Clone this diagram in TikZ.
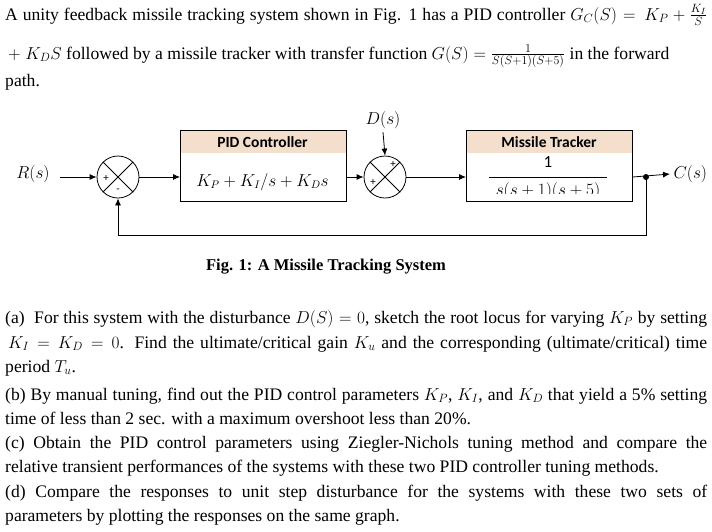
\documentclass[tikz,border=0pt]{standalone}
\usepackage{amsmath}
\usepackage{fontspec}
\setmainfont{Liberation Serif}
\newfontfamily\calib{Carlito}
\usetikzlibrary{arrows.meta}
\newcommand\jl[1]{\hbox to 702pt{#1}}
\begin{document}
\begin{tikzpicture}[x=1pt,y=-1pt,
  txt/.style={anchor=base west,inner sep=0pt,font=\fontsize{17.6}{24}\selectfont},
  blk/.style={draw,thick,minimum width=166pt,minimum height=71pt,inner sep=0pt},
  hdr/.style={fill=orange!25!brown!25!white},
  sumc/.style={draw,thick,circle,minimum size=42pt,inner sep=0pt},
  arr/.style={-{Latex[length=7pt,width=6pt]},thick},
  ln/.style={thick},
  lab/.style={font=\fontsize{16}{18}\selectfont},
  sg/.style={font=\fontsize{11}{12}\selectfont\calib}]
\useasboundingbox (0,0) rectangle (712,531);
% top text
\node[txt] (t1) at (5,20) {\jl{A unity feedback missile tracking system shown in Fig. 1 has a PID controller $G_C(S)=\,K_P+\frac{K_I}{S}$}};
\node[txt] (t2) at (5,59) {\,$+\;K_D S$ followed by a missile tracker with transfer function $G(S)=\frac{1}{S(S+1)(S+5)}$ in the forward};
\node[txt] (t3) at (5,86) {path.};
% diagram
\node[blk,anchor=north west] (pid) at (180,130) {};
\fill[hdr] ([xshift=0.8pt,yshift=-0.8pt]pid.north west) rectangle ([xshift=-0.8pt]pid.east |- 0,153);
\node[font=\calib\bfseries\fontsize{15.5}{16}\selectfont] (pidh) at (262.5,142) {PID Controller};
\node[lab] (pidb) at (262.5,182) {$K_P+K_I/s+K_D s$};
\node[blk,anchor=north west] (mt) at (466,130) {};
\fill[hdr] ([xshift=0.8pt,yshift=-0.8pt]mt.north west) rectangle ([xshift=-0.8pt]mt.east |- 0,153);
\node[font=\calib\bfseries\fontsize{15.5}{16}\selectfont] (mth) at (549,142) {Missile Tracker};
\node[font=\calib\fontsize{17}{17}\selectfont] (one) at (548,162) {1};
\draw (489,177) -- (607,177);
\begin{scope}
\clip (467,178) rectangle (631,193);
\node[font=\fontsize{17}{18}\selectfont,anchor=north] (den) at (548,179) {$s(s+1)(s+5)$};
\end{scope}
\node[sumc] (s1) at (118,177) {};
\draw[ln] (s1.north west) -- (s1.south east) (s1.north east) -- (s1.south west);
\node[sg] at (106,178) {+};
\node[sg] at (118,191) {-};
\node[sumc] (s2) at (385,177) {};
\draw[ln] (s2.north west) -- (s2.south east) (s2.north east) -- (s2.south west);
\node[sg] at (373,182) {+};
\node[sg] at (393,164) {+};
\node[lab] (R) at (33,174) {$R(s)$};
\node[lab] (D) at (383,120) {$D(s)$};
\node[lab,anchor=west] (C) at (670,174) {$C(s)$};
\coordinate (dot) at (646,177);
\coordinate (fb1) at (646,235);
\coordinate (fb2) at (118,235);
\draw[arr] (60,177) -- (s1.west);
\draw[arr] (s1.east) -- (pid.west |- s1);
\draw[arr] (pid.east |- s2) -- (s2.west);
\draw[arr] (s2.east) -- (mt.west |- s2);
\draw[arr] (D.south) -- (s2.north);
\draw[arr] (mt.east |- dot) -- (C.west);
\fill (dot) circle (3pt);
\draw[arr] (dot) -- (fb1) -- (fb2) -- (s1.south);
\node[font=\bfseries\fontsize{16.5}{18}\selectfont] (cap) at (326,267) {Fig. 1: A Missile Tracking System};
% questions
\node[txt] (a1) at (5,323) {\jl{(a)\ \ For this system with the disturbance $D(S)=0$, sketch the root locus for varying $K_P$ by setting}};
\node[txt] (a2) at (5,348) {\jl{\,$K_I=K_D=0$. Find the ultimate/critical gain $K_u$ and the corresponding (ultimate/critical) time}};
\node[txt] (a3) at (5,372) {period $T_u$.};
\node[txt] (b1) at (5,400) {\jl{(b) By manual tuning, find out the PID control parameters $K_P$, $K_I$, and $K_D$ that yield a 5\% setting}};
\node[txt] (b2) at (5,424) {time of less than 2 sec. with a maximum overshoot less than 20\%.};
\node[txt] (c1) at (5,448) {\jl{(c) Obtain the PID control parameters using Ziegler-Nichols tuning method and compare the}};
\node[txt] (c2) at (5,472) {relative transient performances of the systems with these two PID controller tuning methods.};
\node[txt] (d1) at (5,497) {\jl{(d) Compare the responses to unit step disturbance for the systems with these two sets of}};
\node[txt] (d2) at (5,521) {parameters by plotting the responses on the same graph.};
\end{tikzpicture}
\end{document}
